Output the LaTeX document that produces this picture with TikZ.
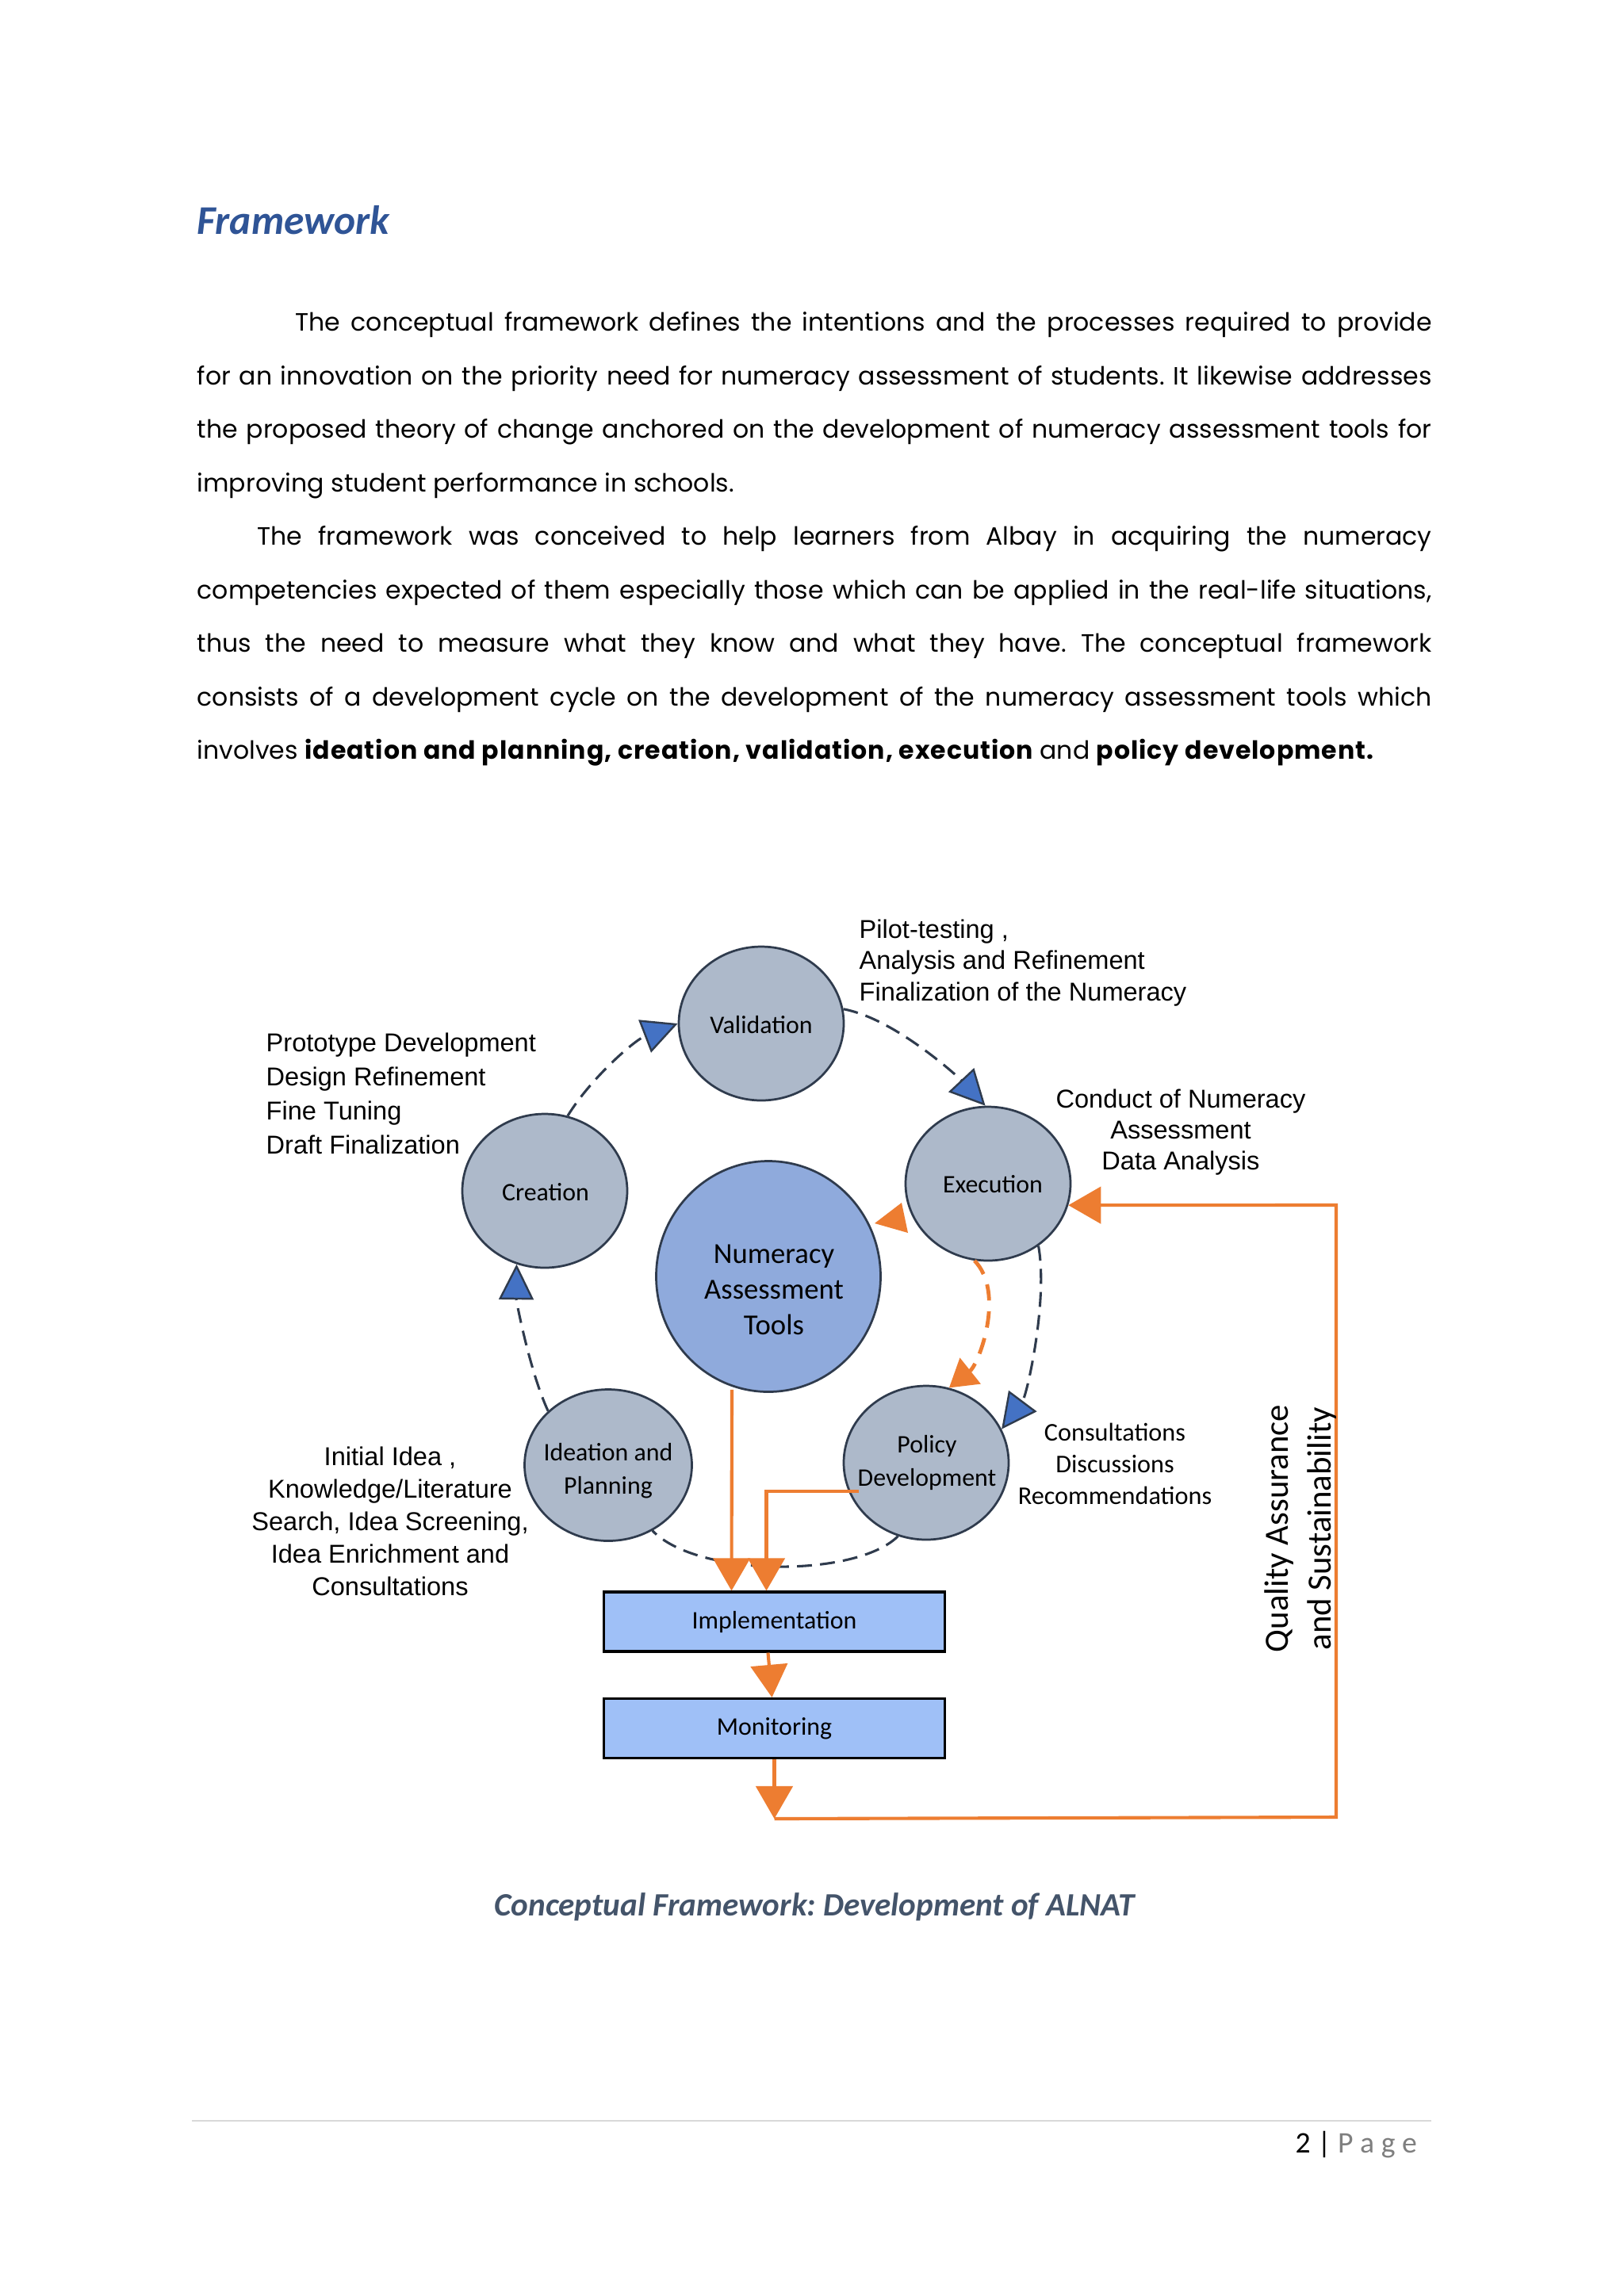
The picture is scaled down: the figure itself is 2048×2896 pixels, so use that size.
\documentclass[tikz,border=0pt]{standalone}
\usepackage{fontspec}
\usetikzlibrary{arrows.meta,shapes.geometric,calc}
\newfontfamily\labfont{Carlito}
\newfontfamily\arifont{Liberation Sans}
\newfontfamily\bodyfont{Poppins}
\def\pxu{0.0102539cm}
\newcommand\tbl[2]{\begin{tabular}[t]{@{}#1@{}}#2\end{tabular}}
\newcommand\wb[1]{{\bfseries\addfontfeatures{LetterSpace=3.2}#1}}
\pgfdeclarelayer{bg}
\pgfsetlayers{bg,main}
\definecolor{darkline}{HTML}{2F3B4D}
\definecolor{circgray}{HTML}{ADB9CA}
\definecolor{numblue}{HTML}{8FAADC}
\definecolor{boxblue}{HTML}{9FC0F7}
\definecolor{orng}{HTML}{ED7D31}
\definecolor{arrblue}{HTML}{4472C4}
\definecolor{headblue}{HTML}{2F5496}
\definecolor{capcol}{HTML}{44546A}
\definecolor{footgray}{HTML}{7F7F7F}
\definecolor{footline}{HTML}{D9D9D9}
\frenchspacing
\begin{document}
\begin{tikzpicture}[x=0.0102539cm,y=-0.0102539cm,
  circnode/.style={ellipse, draw=darkline, line width=0.8pt, fill=circgray, inner sep=0pt,
    minimum width=208*\pxu, minimum height=194*\pxu},
  labtxt/.style={inner sep=0pt, align=center, text=black, font=\labfont\fontsize{9.3}{12.2}\selectfont},
  numnode/.style={ellipse, draw=darkline, line width=0.8pt, fill=numblue, inner sep=0pt,
    minimum width=283*\pxu, minimum height=291*\pxu},
  boxnode/.style={rectangle, draw=black, line width=0.9pt, fill=boxblue, inner sep=0pt,
    minimum width=430*\pxu, minimum height=75*\pxu, text=black,
    font=\labfont\fontsize{9.3}{11}\selectfont},
  bodyln/.style={anchor=base west, inner sep=0pt, font=\bodyfont\fontsize{9.2}{12}\selectfont\frenchspacing},
  annot/.style={inner sep=0pt, font=\arifont\fontsize{9.5}{11.6}\selectfont},
  pent/.style={draw=darkline, line width=0.9pt},
  dashl/.style={draw=darkline, line width=0.9pt, dash pattern=on 5.5pt off 3pt},
  orl/.style={draw=orng, line width=1.2pt},
  ordash/.style={draw=orng, line width=1.4pt, dash pattern=on 6pt off 4pt},
  bt/.tip={Triangle[length=13pt,width=12.8pt,fill=arrblue,line width=0.7pt]},
  ot/.tip={Triangle[length=12pt,width=13.5pt]},
  ot2/.tip={Triangle[length=10pt,width=12pt]}
]
\useasboundingbox (0,0) rectangle (2048,2896);
\fill[white] (0,0) rectangle (2048,2896);

% heading
\node[anchor=base west, inner sep=0pt, text=headblue,
  font=\labfont\fontsize{15}{18}\selectfont\bfseries\itshape] (head) at (248,295) {Framework};

% body text
\node[bodyln] (b1) at (372,417) {\makebox[418.1pt][s]{The conceptual framework defines the intentions and the processes required to provide}};
\node[bodyln] (b2) at (248,485) {\makebox[454.2pt][s]{for an innovation on the priority need for numeracy assessment of students. It likewise addresses}};
\node[bodyln] (b3) at (248,552) {\makebox[454.2pt][s]{the proposed theory of change anchored on the development of numeracy assessment tools for}};
\node[bodyln] (b4) at (248,620) {improving student performance in schools.};
\node[bodyln] (b5) at (324,687) {\makebox[432.1pt][s]{The framework was conceived to help learners from Albay in acquiring the numeracy}};
\node[bodyln] (b6) at (248,755) {\makebox[454.2pt][s]{competencies expected of them especially those which can be applied in the real-life situations,}};
\node[bodyln] (b7) at (248,822) {\makebox[454.2pt][s]{thus the need to measure what they know and what they have. The conceptual framework}};
\node[bodyln] (b8) at (248,890) {\makebox[454.2pt][s]{consists of a development cycle on the development of the numeracy assessment tools which}};
\node[bodyln] (b9) at (248,957) {involves \wb{ideation and planning, creation, validation, execution} and \wb{policy development.}};

% circles
\node[circnode] (val) at (960,1291) {};
\node[circnode] (cre) at (687,1502) {};
\node[circnode] (exe) at (1246,1493) {};
\node[circnode, minimum width=211*\pxu, minimum height=191*\pxu] (ide) at (767,1848) {};
\node[circnode] (pol) at (1168,1845) {};
\node[numnode] (num) at (969,1610) {};
\node[labtxt] (valtxt) at (960,1293) {Validation};
\node[labtxt] (cretxt) at (688,1504) {Creation};
\node[labtxt] (exetxt) at (1252,1494) {Execution};
\node[labtxt] (idetxt) at (767,1855) {Ideation and\\Planning};
\node[labtxt] (poltxt) at (1169,1845) {Policy\\Development};
\node[inner sep=0pt, align=center, font=\labfont\fontsize{10.7}{13.1}\selectfont] (numtxt) at (976,1627) {Numeracy\\Assessment\\Tools};

% pentagram lines behind
\begin{pgfonlayer}{bg}
\draw[pent] ($(val.center)+(15,0)$) -- ($(ide.center)+(20,0)$);
\draw[pent] ($(val.center)+(-2,0)$) -- ($(pol.center)+(-26,0)$);
\draw[pent] ($(cre.center)+(0,5)$) -- ($(exe.center)+(0,14)$);
\draw[pent] ($(cre.center)+(0,-5)$) -- ($(pol.center)+(0,15)$);
\draw[pent] ($(exe.center)+(0,1)$) -- ($(ide.center)+(0,13)$);
\end{pgfonlayer}

% cycle arcs
\draw[dashl, -{bt}] (cre.73) .. controls (745,1360) and (800,1312) .. (val.180);
\draw[dashl, -{bt}] (val.10) .. controls (1130,1285) and (1212,1362) .. (exe.92);
\draw[dashl, -{bt}] (exe.-51) .. controls (1322,1640) and (1295,1760) .. (pol.24);
\draw[dashl] (pol.249) .. controls (1080,1990) and (880,1990) .. (ide.-56);
\draw[dashl, -{bt}] (ide.138) .. controls (668,1730) and (651,1640) .. (cre.249);

% boxes
\node[boxnode] (impl) at (976.5,2045.5) {Implementation};
\node[boxnode] (mon) at (976.5,2180) {Monitoring};

% orange connectors
\draw[ordash, -{ot2}] (exe.260) .. controls (1268,1630) and (1235,1720) .. (pol.73);
\fill[orng] (1103,1543) -- (1137,1517) -- (1145,1555) -- cycle;
\draw[orl, -{ot}] ($(num.south)+(-46,-4)$) -- ($(impl.north)+(-54,0)$);
\draw[orl, -{ot}] ($(pol.center)+(-85,36)$) -| ($(impl.north)+(-10,0)$);
\draw[orl, -{ot}] ($(impl.south)+(-8,0)$) -- ($(mon.north)+(-3,0)$);
\coordinate (bl) at (976.5,2294);
\coordinate (qbr) at (1685,2292);
\coordinate (qtr) at (1685,1520);
\draw[orl, -{ot}] (mon.south) -- (bl);
\draw[orl, -{ot}] (bl) -- (qbr) -- (qtr) -- (exe.-15);

% annotations
\node[annot, anchor=base west] (tval) at (1083,1183) {\tbl{l}{Pilot-testing ,\\Analysis and Refinement\\Finalization of the Numeracy}};
\node[annot, anchor=base west, font=\arifont\fontsize{9.5}{12.6}\selectfont] (tcre) at (335,1326) {\tbl{l}{Prototype Development\\Design Refinement\\Fine Tuning\\Draft Finalization}};
\node[annot, anchor=base, font=\arifont\fontsize{9.5}{11.4}\selectfont] (texe) at (1489,1397) {\tbl{c}{Conduct of Numeracy\\Assessment\\Data Analysis}};
\node[annot, anchor=base, font=\arifont\fontsize{9.5}{12}\selectfont] (tide) at (492,1848) {\tbl{c}{Initial Idea ,\\Knowledge/Literature\\Search, Idea Screening,\\Idea Enrichment and\\Consultations}};
\node[annot, anchor=base, font=\labfont\fontsize{9.4}{11.8}\selectfont] (tpol) at (1406,1817) {\tbl{c}{Consultations\\Discussions\\Recommendations}};
\node[rotate=90, inner sep=0pt, align=center, font=\labfont\fontsize{12.5}{15.7}\selectfont] (qa) at (1640,1928) {Quality Assurance\\and Sustainability};

% caption
\node[anchor=base, inner sep=0pt, text=capcol, font=\labfont\fontsize{12}{14}\selectfont\bfseries\itshape] (cap) at (1027,2416) {Conceptual Framework: Development of ALNAT};

% footer
\draw[footline, line width=0.6pt] (242,2675) -- (1805,2675);
\node[anchor=base west, inner sep=0pt, font=\labfont\fontsize{11}{13}\selectfont] (pg) at (1633,2715) {2 | \textcolor{footgray}{P a g e}};
\end{tikzpicture}
\end{document}
